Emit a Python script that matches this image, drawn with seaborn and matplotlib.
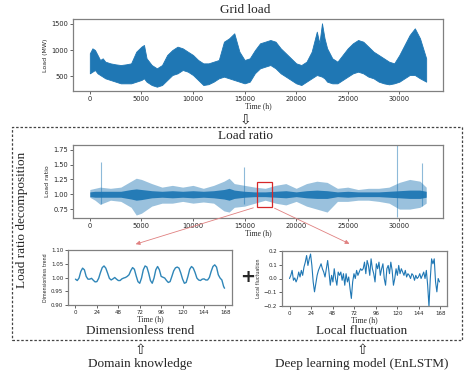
import numpy as np
import matplotlib
matplotlib.use("Agg")
import matplotlib.pyplot as plt
import seaborn as sns
from matplotlib.patches import Rectangle

sns.set_style('ticks')
plt.rcParams['font.family'] = ['DejaVu Sans']
SERIF = ['Liberation Serif', 'DejaVu Serif']

# ---- grid load (envelope of the dense hourly series)
load_hours = [0, 250, 500, 750, 1000, 1250, 1500, 2000, 2500, 3000, 3500, 4000, 4500, 5000,
              5250, 5500, 6000, 6500, 7000, 7500, 8000, 8500, 9000, 9500, 10000, 10500, 11000, 11500,
              12000, 12500, 13000, 13500, 14000, 14500, 15000, 15500, 16000, 16500, 17000, 17500, 18000, 18500,
              19000, 19500, 20000, 20500, 21000, 21500, 22000, 22250, 22500, 22750, 23000, 23500, 24000, 24500,
              25000, 25500, 26000, 26500, 27000, 27500, 28000, 28500, 29000, 29500, 30000, 30500, 31000, 31500,
              32000, 32600]
load_upper = [940, 1035, 1003, 908, 812, 844, 780, 748, 729, 716, 729, 748, 971, 1067,
              1099, 844, 716, 653, 716, 908, 1003, 1067, 1035, 971, 908, 812, 748, 748,
              780, 812, 1162, 1226, 1322, 971, 812, 844, 1000, 1131, 1162, 1194, 1162, 1035,
              940, 844, 748, 716, 780, 971, 1354, 1131, 1513, 1226, 1035, 844, 780, 908,
              1035, 1131, 1194, 1162, 1067, 971, 908, 844, 780, 748, 908, 1099, 1290, 1417,
              1226, 844]
load_lower = [557, 589, 621, 557, 525, 494, 462, 430, 398, 366, 366, 366, 398, 430,
              462, 398, 334, 302, 334, 430, 525, 557, 621, 589, 525, 430, 334, 350,
              398, 462, 494, 462, 430, 398, 366, 398, 560, 653, 685, 716, 653, 557,
              494, 430, 366, 334, 398, 462, 525, 510, 494, 460, 398, 366, 366, 430,
              494, 557, 589, 557, 494, 462, 398, 366, 347, 366, 398, 462, 525, 525,
              462, 398]

# ---- load ratio (outer / inner envelopes + isolated spikes)
ratio_hours = [0, 500, 1000, 2000, 3000, 4000, 4500, 5000, 6000, 7000, 8000, 9000, 10000, 11000,
               12000, 13000, 13500, 14000, 15000, 16000, 17000, 18000, 19000, 20000, 21000, 22000,
               23000, 24000, 25000, 26000, 27000, 28000, 29000, 30000, 31000, 32000, 32600]
ratio_out_hi = [1.08, 1.10, 1.12, 1.10, 1.12, 1.22, 1.27, 1.25, 1.18, 1.12, 1.15, 1.12, 1.15, 1.10,
                1.15, 1.22, 1.27, 1.18, 1.15, 1.12, 1.10, 1.15, 1.18, 1.10, 1.18, 1.22,
                1.20, 1.10, 1.12, 1.08, 1.10, 1.10, 1.12, 1.20, 1.25, 1.22, 1.12]
ratio_out_lo = [0.95, 0.90, 0.83, 0.90, 0.88, 0.78, 0.65, 0.68, 0.80, 0.85, 0.85, 0.88, 0.85, 0.87,
                0.85, 0.72, 0.70, 0.78, 0.80, 0.85, 0.90, 0.85, 0.82, 0.88, 0.80, 0.75,
                0.70, 0.88, 0.88, 0.90, 0.90, 0.88, 0.85, 0.75, 0.75, 0.78, 0.85]
ratio_in_hi = [1.04, 1.05, 1.05, 1.05, 1.05, 1.08, 1.09, 1.08, 1.06, 1.05, 1.06, 1.05, 1.06, 1.05,
               1.06, 1.08, 1.10, 1.07, 1.05, 1.04, 1.04, 1.05, 1.06, 1.04, 1.06, 1.07,
               1.06, 1.04, 1.05, 1.04, 1.04, 1.04, 1.05, 1.06, 1.07, 1.07, 1.05]
ratio_in_lo = [0.96, 0.95, 0.95, 0.95, 0.95, 0.92, 0.90, 0.91, 0.94, 0.95, 0.94, 0.95, 0.94, 0.95,
               0.94, 0.92, 0.90, 0.93, 0.95, 0.96, 0.96, 0.95, 0.94, 0.96, 0.94, 0.93,
               0.93, 0.96, 0.95, 0.96, 0.96, 0.96, 0.95, 0.94, 0.93, 0.93, 0.95]
spike_hours = [1050, 14900, 29790, 32200]
spike_top = [1.54, 1.46, 1.83, 1.53]
spike_bot = [0.84, 0.84, 0.62, 0.80]

# ---- one week: dimensionless trend
trend_hours = list(range(0, 167, 2)) + [167]
trend_vals = [0.994, 0.989, 0.998, 1.022, 1.034, 1.028, 1.004, 0.994, 0.994, 0.997, 0.990, 0.984,
              0.985, 0.997, 1.018, 1.036, 1.042, 1.034, 1.016, 0.997, 0.991, 0.995, 1.000, 0.994,
              0.989, 0.989, 0.995, 0.998, 1.000, 1.004, 1.010, 1.025, 1.036, 1.030, 1.006, 0.985,
              0.979, 0.998, 1.028, 1.042, 1.038, 1.016, 0.989, 0.979, 0.998, 1.028, 1.040, 1.028,
              1.004, 1.001, 0.998, 0.989, 0.982, 0.985, 1.004, 1.024, 1.035, 1.038, 1.034, 1.016,
              0.994, 0.979, 0.982, 1.004, 1.030, 1.040, 1.034, 1.018, 0.998, 0.991, 0.989, 0.994,
              0.995, 0.991, 0.991, 1.000, 1.022, 1.040, 1.046, 1.038, 1.010, 0.998, 0.991, 0.967,
              0.961]

# ---- one week: local fluctuation
fluct_vals = [0.0, 0.023, 0.059, -0.013, 0.004, -0.025, 0.0, 0.047, 0.011, 0.059,
              0.023, 0.083, 0.119, 0.167, 0.095, 0.143, 0.178, 0.095, -0.025, -0.097,
              -0.037, 0.023, 0.059, 0.083, 0.107, 0.071, 0.047, 0.011, 0.071, 0.131,
              0.047, -0.049, 0.023, -0.025, 0.071, 0.0, -0.049, 0.047, 0.023, 0.047,
              -0.013, 0.035, -0.049, 0.035, -0.025, 0.011, -0.073, -0.145, -0.025, 0.035,
              0.0, 0.059, 0.023, 0.047, 0.071, 0.059,
              0.071, 0.119, 0.035, 0.131, 0.095, 0.023, 0.143, 0.071, 0.035, -0.025,
              0.107, 0.071, 0.119, 0.023, 0.071, 0.107, 0.0, -0.049, 0.071, 0.095,
              0.035, 0.119, 0.059, -0.049, 0.0, 0.071, 0.023, 0.095, 0.035, 0.071,
              0.047, 0.023, 0.059, 0.011, 0.035, 0.023, 0.0, 0.035, 0.023, -0.013,
              0.023, 0.0, 0.011, 0.035, 0.0, 0.023, 0.047, 0.0, 0.059, -0.049,
              -0.205, 0.0, 0.143, 0.107, 0.143, -0.025, -0.097, 0.0, -0.025]
fluct_hours = np.linspace(0, 167, len(fluct_vals))

W, H = 474, 373
BLUE = '#1f77b4'


def box(l, t, r, b):
    return [l / W, 1 - b / H, (r - l) / W, (b - t) / H]


def style(ax, size):
    for s in ax.spines.values():
        s.set_color('#808080')
        s.set_linewidth(0.9)
    ax.tick_params(labelsize=size, length=2, width=0.5, pad=1.5)


fig = plt.figure(figsize=(W / 100, H / 100), dpi=100)

# grid load
ax1 = fig.add_axes(box(73, 19, 443, 91))
ax1.fill_between(load_hours, load_lower, load_upper, color=BLUE, lw=0.6, edgecolor=BLUE)
ax1.set_xlim(-1630, 34230)
ax1.set_ylim(220, 1595)
ax1.set_yticks([500, 1000, 1500])
ax1.set_xticks(range(0, 30001, 5000))
ax1.set_ylabel('Load (MW)', fontsize=4.5, labelpad=2)
ax1.set_xlabel('Time (h)', fontsize=5.5, family=SERIF, labelpad=0)
style(ax1, 4.8)

# load ratio
ax2 = fig.add_axes(box(73, 145, 443, 218))
ax2.fill_between(ratio_hours, ratio_out_lo, ratio_out_hi, color=BLUE, alpha=0.45, lw=0)
ax2.fill_between(ratio_hours, ratio_in_lo, ratio_in_hi, color=BLUE, alpha=0.95, lw=0)
ax2.vlines(spike_hours, spike_bot, spike_top, color=BLUE, alpha=0.5, lw=0.8)
ax2.add_patch(Rectangle((16170, 0.78), 1520, 0.42, fill=False, ec='#d62728', lw=0.9, zorder=5))
ax2.set_xlim(-1630, 34230)
ax2.set_ylim(0.60, 1.83)
ax2.set_yticks([0.75, 1.00, 1.25, 1.50, 1.75])
ax2.set_xticks(range(0, 30001, 5000))
ax2.set_ylabel('Load ratio', fontsize=4.5, labelpad=2)
ax2.set_xlabel('Time (h)', fontsize=5.5, family=SERIF, labelpad=0)
style(ax2, 4.8)

# dimensionless trend
ax3 = fig.add_axes(box(68, 250, 232, 305))
sns.lineplot(x=trend_hours, y=trend_vals, ax=ax3, color='#2f86b8', lw=1.0)
ax3.set_ylim(0.90, 1.10)
ax3.set_yticks([0.90, 0.95, 1.00, 1.05, 1.10])
ax3.set_xticks(range(0, 169, 24))
ax3.set_ylabel('Dimensionless trend', fontsize=3.4, labelpad=2)
ax3.set_xlabel('Time (h)', fontsize=5.5, family=SERIF, labelpad=0)
style(ax3, 4.0)

# local fluctuation
ax4 = fig.add_axes(box(282, 251, 447, 306))
sns.lineplot(x=fluct_hours, y=fluct_vals, ax=ax4, color=BLUE, lw=0.8)
ax4.set_ylim(-0.2, 0.2)
ax4.set_yticks([-0.2, -0.1, 0.0, 0.1, 0.2])
ax4.set_xticks(range(0, 169, 24))
ax4.set_ylabel('Local fluctuation', fontsize=3.4, labelpad=2)
ax4.set_xlabel('Time (h)', fontsize=5.5, family=SERIF, labelpad=0)
style(ax4, 4.0)


def ftext(x, y, s, **kw):
    fig.text(x / W, 1 - y / H, s, ha='center', va='center', **kw)


ftext(245, 10, 'Grid load', fontsize=9.5, family=SERIF)
ftext(245, 136, 'Load ratio', fontsize=9.5, family=SERIF)
ftext(140, 331, 'Dimensionless trend', fontsize=9.5, family=SERIF)
ftext(362, 331, 'Local fluctuation', fontsize=9.5, family=SERIF)
ftext(140, 364, 'Domain knowledge', fontsize=9.5, family=SERIF)
ftext(362, 364, 'Deep learning model (EnLSTM)', fontsize=9.5, family=SERIF)
ftext(22, 220, 'Load ratio decomposition', fontsize=9.5, family=SERIF, rotation=90)
ftext(248, 277, '+', fontsize=13, fontweight='bold')
ftext(245, 119, '\u21e9', fontsize=10)
ftext(140, 350, '\u21e7', fontsize=10)
ftext(362, 350, '\u21e7', fontsize=10)

# dashed frame around the decomposition part
fig.add_artist(Rectangle((12 / W, 1 - 340 / H), 450 / W, 213 / H, transform=fig.transFigure,
                         fill=False, ec='#444444', lw=0.9, ls=(0, (2, 1.5))))

# red connectors from the highlighted window to the two sub-panels
for (x0, y0), (x1, y1) in [((256, 207), (133, 245)), ((272, 207), (352, 245))]:
    fig.add_artist(matplotlib.patches.FancyArrowPatch(
        (x0 / W, 1 - y0 / H), (x1 / W, 1 - y1 / H), transform=fig.transFigure,
        arrowstyle='-|>,head_length=2.5,head_width=1.2', color='#e08080', lw=0.6,
        mutation_scale=1))

fig.savefig('out.png', dpi=100)
